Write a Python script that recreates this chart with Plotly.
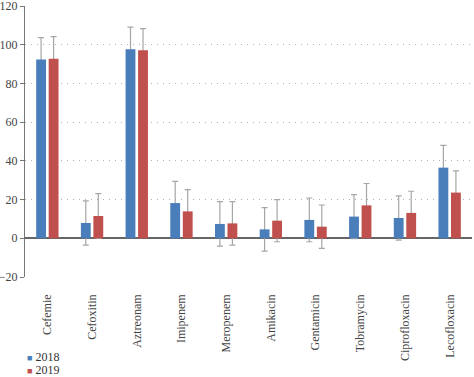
import plotly.graph_objects as go

categories = ["Cefemie", "Cefoxitin", "Aztreonam", "Imipenem", "Meropenem",
              "Amikacin", "Gentamicin", "Tobramycin", "Ciprofloxacin", "Lecofloxacin"]
values_2018 = [92.3, 7.9, 97.6, 18.2, 7.4, 4.6, 9.5, 11.2, 10.5, 36.5]
errors_2018 = [11.4, 11.4, 11.5, 11.2, 11.5, 11.2, 11.3, 11.4, 11.4, 11.5]
values_2019 = [92.8, 11.5, 97.1, 13.9, 7.7, 9.1, 6.0, 17.0, 13.1, 23.6]
errors_2019 = [11.4, 11.6, 11.2, 11.2, 11.2, 10.9, 11.2, 11.3, 11.2, 11.2]
y_ticks = [-20, 0, 20, 40, 60, 80, 100, 120]
series_names = ["2018", "2019"]
series_colors = ["#4a7ebb", "#c0504d"]

FONT = "Liberation Serif, Times New Roman, serif"
offsets = [-0.25, 0.03]
series = list(zip(series_names, [values_2018, values_2019],
                  [errors_2018, errors_2019], series_colors, offsets))

fig = go.Figure()
# error bars first (drawn beneath the bars, like the original)
for name, vals, errs, color, off in series:
    fig.add_trace(go.Bar(
        x=categories, y=vals, name=name, showlegend=False, hoverinfo="skip",
        marker=dict(color="rgba(0,0,0,0)", line=dict(width=0)),
        width=0.22, offset=off,
        error_y=dict(type="data", array=errs, visible=True,
                     color="#a6a6a6", thickness=1.2, width=3),
    ))
for name, vals, errs, color, off in series:
    fig.add_trace(go.Bar(
        x=categories, y=vals, name=name, showlegend=False,
        marker=dict(color=color, line=dict(width=0)),
        width=0.22, offset=off,
    ))

# compact legend (as in the original) built from annotations
legend_y = [-0.296, -0.344]
for name, color, ly in zip(series_names, series_colors, legend_y):
    fig.add_annotation(
        xref="paper", yref="paper", x=0.0, y=ly, xanchor="left", yanchor="middle",
        showarrow=False, align="left",
        text=f'<span style="color:{color};font-size:9px">■</span> {name}',
        font=dict(family=FONT, size=12, color="#333"),
    )

fig.update_layout(
    width=474, height=377,
    margin=dict(l=25, r=2, t=6, b=100, autoexpand=False),
    barmode="overlay",
    plot_bgcolor="white", paper_bgcolor="white",
    font=dict(family=FONT, size=12, color="#444"),
    showlegend=False,
    xaxis=dict(
        type="category", range=[-0.5, 9.5],
        tickangle=-90, showgrid=False, showline=False, ticks="",
        tickfont=dict(family=FONT, size=12, color="#444"),
        ticklabelstandoff=14,
    ),
    yaxis=dict(
        range=[-20, 120], tickvals=y_ticks, ticklabeloverflow="allow",
        showgrid=True, gridcolor="#b0b0b0", griddash="1px,5px", gridwidth=1.2,
        zeroline=True, zerolinecolor="#666", zerolinewidth=1.5,
        showline=True, linecolor="#777", linewidth=1.2,
        ticks="outside", ticklen=4, tickcolor="#777",
        tickfont=dict(family=FONT, size=12, color="#444"),
    ),
)

fig.write_html("out.html", config={"displayModeBar": False},
               post_script="document.body.style.margin='0';")
